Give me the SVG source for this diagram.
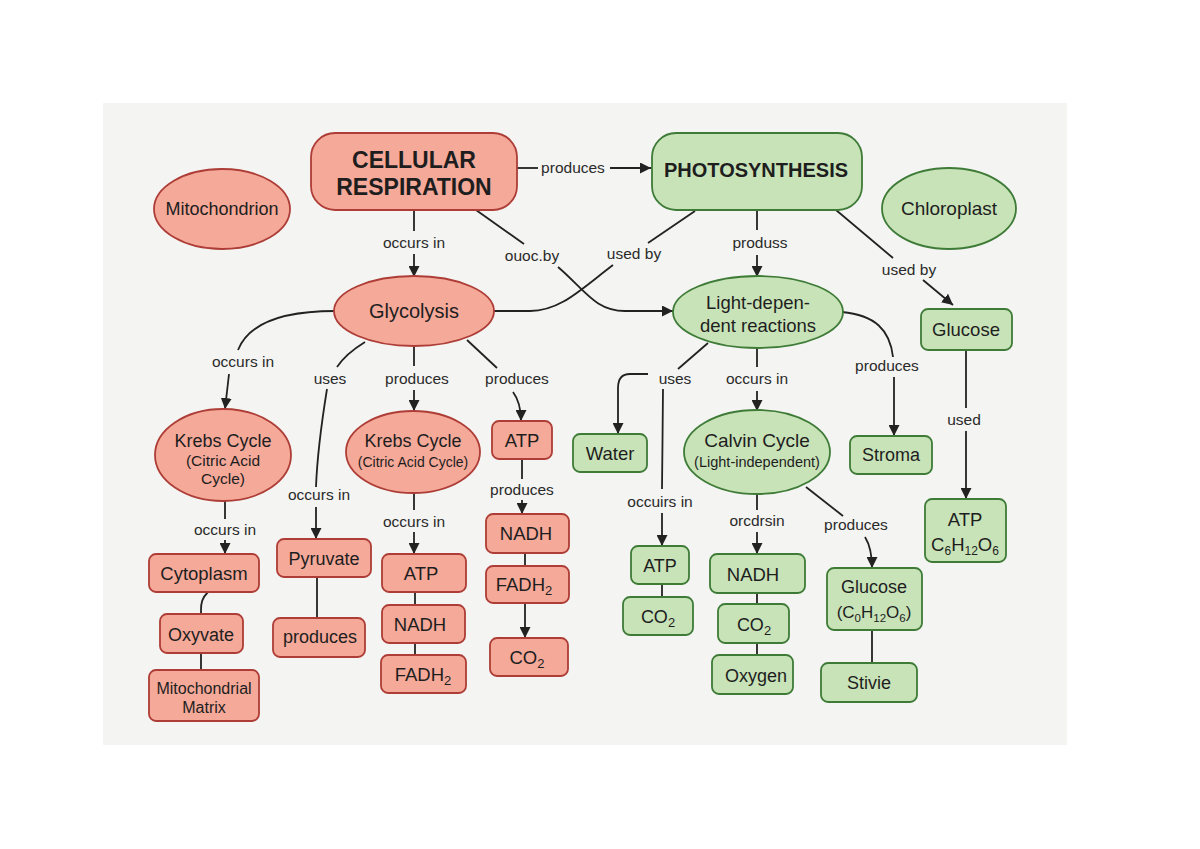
<svg xmlns="http://www.w3.org/2000/svg" width="1200" height="849" viewBox="0 0 1200 849">
<defs>
<marker id="ah" viewBox="0 0 10 10" refX="10" refY="5" markerWidth="11" markerHeight="11" markerUnits="userSpaceOnUse" orient="auto">
<path d="M0,0 L10,5 L0,10 z" fill="#222"/>
</marker>
</defs>
<style>
.r{fill:#f5a999;stroke:#ad3d36;stroke-width:1.8}
.g{fill:#c9e3b8;stroke:#3e7b37;stroke-width:1.8}
.t{font-family:"Liberation Sans",Arial,sans-serif;fill:#1e1e1e;text-anchor:middle}
.l{font-family:"Liberation Sans",Arial,sans-serif;fill:#2a2a2a;text-anchor:middle;font-size:15.5px}
.c path,.c line{fill:none;stroke:#222;stroke-width:1.8}
.a{marker-end:url(#ah)}
</style>
<rect x="0" y="0" width="1200" height="849" fill="#ffffff"/>
<rect x="103" y="103" width="964" height="642" fill="#f4f4f2"/>

<g id="connectors" class="c">
<line x1="517" y1="168" x2="538" y2="168"/>
<line class="a" x1="610" y1="168" x2="651" y2="168"/>
<line x1="414" y1="210" x2="414" y2="231"/>
<line class="a" x1="414" y1="254" x2="414" y2="277"/>
<line x1="476" y1="210" x2="524" y2="244"/>
<path class="a" d="M558,267 C585,290 595,311 625,311 L673,311"/>
<line x1="695" y1="211" x2="648" y2="243"/>
<path d="M613,265 C580,290 560,311 530,311 L494,311"/>
<line x1="757" y1="210" x2="757" y2="230"/>
<line class="a" x1="757" y1="255" x2="757" y2="277"/>
<line x1="836" y1="210" x2="893" y2="258"/>
<line class="a" x1="923" y1="280" x2="953" y2="305"/>
<path d="M335,311 C290,311 250,320 238,350"/>
<line class="a" x1="229" y1="374" x2="225" y2="409"/>
<path d="M365,342 C352,350 343,358 337,367"/>
<path d="M327,389 C322,420 317,460 316,487"/>
<line class="a" x1="316" y1="507" x2="316" y2="539"/>
<line x1="414" y1="346" x2="414" y2="366"/>
<line class="a" x1="414" y1="390" x2="414" y2="411"/>
<line x1="467" y1="340" x2="497" y2="368"/>
<path class="a" d="M513,392 C519,400 521,410 521,421"/>
<line x1="522" y1="459" x2="522" y2="479"/>
<line class="a" x1="522" y1="500" x2="522" y2="514"/>
<line x1="225" y1="500" x2="225" y2="519"/>
<line class="a" x1="225" y1="540" x2="225" y2="554"/>
<path d="M208,592 C202,598 201,603 201,610 L201,614"/>
<line x1="201" y1="653" x2="201" y2="670"/>
<line x1="317" y1="577" x2="317" y2="618"/>
<line x1="414" y1="493" x2="414" y2="510"/>
<line class="a" x1="414" y1="532" x2="414" y2="554"/>
<line x1="415" y1="592" x2="415" y2="605"/>
<line x1="415" y1="643" x2="415" y2="655"/>
<line x1="525" y1="553" x2="525" y2="566"/>
<line class="a" x1="525" y1="603" x2="525" y2="638"/>
<line x1="708" y1="343" x2="678" y2="369"/>
<path class="a" d="M648,374 L630,374 Q618,374 618,388 L618,434"/>
<path d="M663,389 C663,420 662,460 662,489"/>
<line class="a" x1="662" y1="513" x2="662" y2="546"/>
<line x1="662" y1="584" x2="662" y2="597"/>
<line x1="757" y1="348" x2="757" y2="367"/>
<line class="a" x1="757" y1="391" x2="757" y2="411"/>
<path d="M842,312 C875,315 890,330 893,357"/>
<line class="a" x1="894" y1="377" x2="894" y2="436"/>
<line x1="966" y1="350" x2="966" y2="408"/>
<line class="a" x1="966" y1="431" x2="966" y2="499"/>
<line x1="757" y1="494" x2="757" y2="510"/>
<line class="a" x1="757" y1="532" x2="757" y2="554"/>
<line x1="757" y1="593" x2="757" y2="604"/>
<line x1="757" y1="643" x2="757" y2="655"/>
<line x1="806" y1="487" x2="843" y2="516"/>
<path class="a" d="M865,537 C870,545 872,555 872,568"/>
<line x1="872" y1="630" x2="872" y2="663"/>
</g>

<g id="labels">
<text class="l" x="573" y="173">produces</text>
<text class="l" x="414" y="248">occurs in</text>
<text class="l" x="532" y="261">ouoc.by</text>
<text class="l" x="634" y="259">used by</text>
<text class="l" x="760" y="248">produss</text>
<text class="l" x="909" y="275">used by</text>
<text class="l" x="243" y="367">occurs in</text>
<text class="l" x="330" y="384">uses</text>
<text class="l" x="417" y="384">produces</text>
<text class="l" x="517" y="384">produces</text>
<text class="l" x="319" y="500">occurs in</text>
<text class="l" x="522" y="495">produces</text>
<text class="l" x="225" y="535">occurs in</text>
<text class="l" x="414" y="527">occurs in</text>
<text class="l" x="675" y="384">uses</text>
<text class="l" x="757" y="384">occurs in</text>
<text class="l" x="887" y="371">produces</text>
<text class="l" x="964" y="425">used</text>
<text class="l" x="660" y="507">occuirs in</text>
<text class="l" x="757" y="526">orcdrsin</text>
<text class="l" x="856" y="530">produces</text>
</g>

<g id="cellular-respiration">
<rect class="r" x="311" y="133" width="206" height="77" rx="24"/>
<text class="t" x="414" y="168" font-size="23" font-weight="bold">CELLULAR</text>
<text class="t" x="414" y="195" font-size="23" font-weight="bold">RESPIRATION</text>
</g>
<g id="photosynthesis">
<rect class="g" x="652" y="133" width="210" height="77" rx="24"/>
<text class="t" x="756" y="177" font-size="20" font-weight="bold">PHOTOSYNTHESIS</text>
</g>
<g id="mitochondrion">
<ellipse class="r" cx="222" cy="209" rx="68" ry="40"/>
<text class="t" x="222" y="215" font-size="18">Mitochondrion</text>
</g>
<g id="chloroplast">
<ellipse class="g" cx="949" cy="208.5" rx="67" ry="40.5"/>
<text class="t" x="949" y="215" font-size="19">Chloroplast</text>
</g>
<g id="glycolysis">
<ellipse class="r" cx="414" cy="311" rx="80" ry="35"/>
<text class="t" x="414" y="318" font-size="20">Glycolysis</text>
</g>
<g id="light-dependent">
<ellipse class="g" cx="758" cy="312" rx="85" ry="36"/>
<text class="t" x="758" y="309" font-size="18.5">Light-depen-</text>
<text class="t" x="758" y="332" font-size="18.5">dent reactions</text>
</g>
<g id="glucose-top">
<rect class="g" x="921" y="309" width="91" height="41" rx="7"/>
<text class="t" x="966" y="336" font-size="18.5">Glucose</text>
</g>
<g id="krebs-left">
<ellipse class="r" cx="223" cy="455" rx="68" ry="46"/>
<text class="t" x="223" y="447" font-size="18">Krebs Cycle</text>
<text class="t" x="223" y="466" font-size="15.5">(Citric Acid</text>
<text class="t" x="223" y="484" font-size="15.5">Cycle)</text>
</g>
<g id="krebs-center">
<ellipse class="r" cx="413" cy="452" rx="67" ry="41"/>
<text class="t" x="413" y="447" font-size="18">Krebs Cycle</text>
<text class="t" x="413" y="467" font-size="14">(Citric Acid Cycle)</text>
</g>
<g id="atp-r1">
<rect class="r" x="492" y="421" width="60" height="38" rx="7"/>
<text class="t" x="522" y="447" font-size="18.5">ATP</text>
</g>
<g id="water">
<rect class="g" x="573" y="434" width="74" height="38" rx="7"/>
<text class="t" x="610" y="460" font-size="18.5">Water</text>
</g>
<g id="calvin">
<ellipse class="g" cx="757" cy="452" rx="73" ry="42"/>
<text class="t" x="757" y="447" font-size="19">Calvin Cycle</text>
<text class="t" x="757" y="467" font-size="14.5">(Light-independent)</text>
</g>
<g id="stroma">
<rect class="g" x="850" y="436" width="82" height="38" rx="7"/>
<text class="t" x="891" y="461" font-size="18">Stroma</text>
</g>
<g id="atp-formula">
<rect class="g" x="925" y="499" width="81" height="63" rx="7"/>
<text class="t" x="965" y="526" font-size="18.5">ATP</text>
<text class="t" x="965" y="551" font-size="18.5">C<tspan font-size="12" dy="4">6</tspan><tspan dy="-4">H</tspan><tspan font-size="12" dy="4">12</tspan><tspan dy="-4">O</tspan><tspan font-size="12" dy="4">6</tspan></text>
</g>
<g id="cytoplasm">
<rect class="r" x="149" y="554" width="110" height="38" rx="7"/>
<text class="t" x="204" y="580" font-size="18.5">Cytoplasm</text>
</g>
<g id="oxyvate">
<rect class="r" x="160" y="614" width="83" height="39" rx="7"/>
<text class="t" x="201" y="641" font-size="18">Oxyvate</text>
</g>
<g id="mito-matrix">
<rect class="r" x="149" y="670" width="110" height="51" rx="7"/>
<text class="t" x="204" y="694" font-size="16">Mitochondrial</text>
<text class="t" x="204" y="713" font-size="16">Matrix</text>
</g>
<g id="pyruvate">
<rect class="r" x="277" y="539" width="94" height="38" rx="7"/>
<text class="t" x="324" y="565" font-size="18">Pyruvate</text>
</g>
<g id="produces-box">
<rect class="r" x="273" y="618" width="92" height="39" rx="7"/>
<text class="t" x="320" y="643" font-size="18">produces</text>
</g>
<g id="atp-c">
<rect class="r" x="382" y="554" width="84" height="38" rx="7"/>
<text class="t" x="421" y="580" font-size="18.5">ATP</text>
</g>
<g id="nadh-c">
<rect class="r" x="382" y="605" width="83" height="38" rx="7"/>
<text class="t" x="420" y="631" font-size="18.5">NADH</text>
</g>
<g id="fadh2-c">
<rect class="r" x="381" y="655" width="85" height="38" rx="7"/>
<text class="t" x="423" y="681" font-size="18.5">FADH<tspan font-size="13" dy="4">2</tspan></text>
</g>
<g id="nadh-r">
<rect class="r" x="486" y="514" width="83" height="39" rx="7"/>
<text class="t" x="526" y="540" font-size="18.5">NADH</text>
</g>
<g id="fadh2-r">
<rect class="r" x="486" y="566" width="83" height="37" rx="7"/>
<text class="t" x="524" y="591" font-size="18.5">FADH<tspan font-size="13" dy="4">2</tspan></text>
</g>
<g id="co2-r">
<rect class="r" x="490" y="638" width="78" height="38" rx="7"/>
<text class="t" x="527" y="664" font-size="18.5">CO<tspan font-size="13" dy="4">2</tspan></text>
</g>
<g id="atp-g">
<rect class="g" x="631" y="546" width="58" height="38" rx="7"/>
<text class="t" x="660" y="572" font-size="18">ATP</text>
</g>
<g id="co2-g1">
<rect class="g" x="623" y="597" width="70" height="38" rx="7"/>
<text class="t" x="658" y="623" font-size="18">CO<tspan font-size="13" dy="4">2</tspan></text>
</g>
<g id="nadh-g">
<rect class="g" x="710" y="554" width="95" height="39" rx="7"/>
<text class="t" x="753" y="581" font-size="18.5">NADH</text>
</g>
<g id="co2-g2">
<rect class="g" x="718" y="604" width="71" height="39" rx="7"/>
<text class="t" x="754" y="631" font-size="18">CO<tspan font-size="13" dy="4">2</tspan></text>
</g>
<g id="oxygen">
<rect class="g" x="712" y="655" width="81" height="39" rx="7"/>
<text class="t" x="756" y="682" font-size="18">Oxygen</text>
</g>
<g id="glucose-formula">
<rect class="g" x="827" y="568" width="95" height="62" rx="7"/>
<text class="t" x="874" y="593" font-size="18">Glucose</text>
<text class="t" x="874" y="618" font-size="17">(C<tspan font-size="11.5" dy="4">0</tspan><tspan dy="-4">H</tspan><tspan font-size="11.5" dy="4">12</tspan><tspan dy="-4">O</tspan><tspan font-size="11.5" dy="4">6</tspan><tspan dy="-4">)</tspan></text>
</g>
<g id="stivie">
<rect class="g" x="821" y="663" width="96" height="39" rx="7"/>
<text class="t" x="869" y="689" font-size="18">Stivie</text>
</g>
</svg>
